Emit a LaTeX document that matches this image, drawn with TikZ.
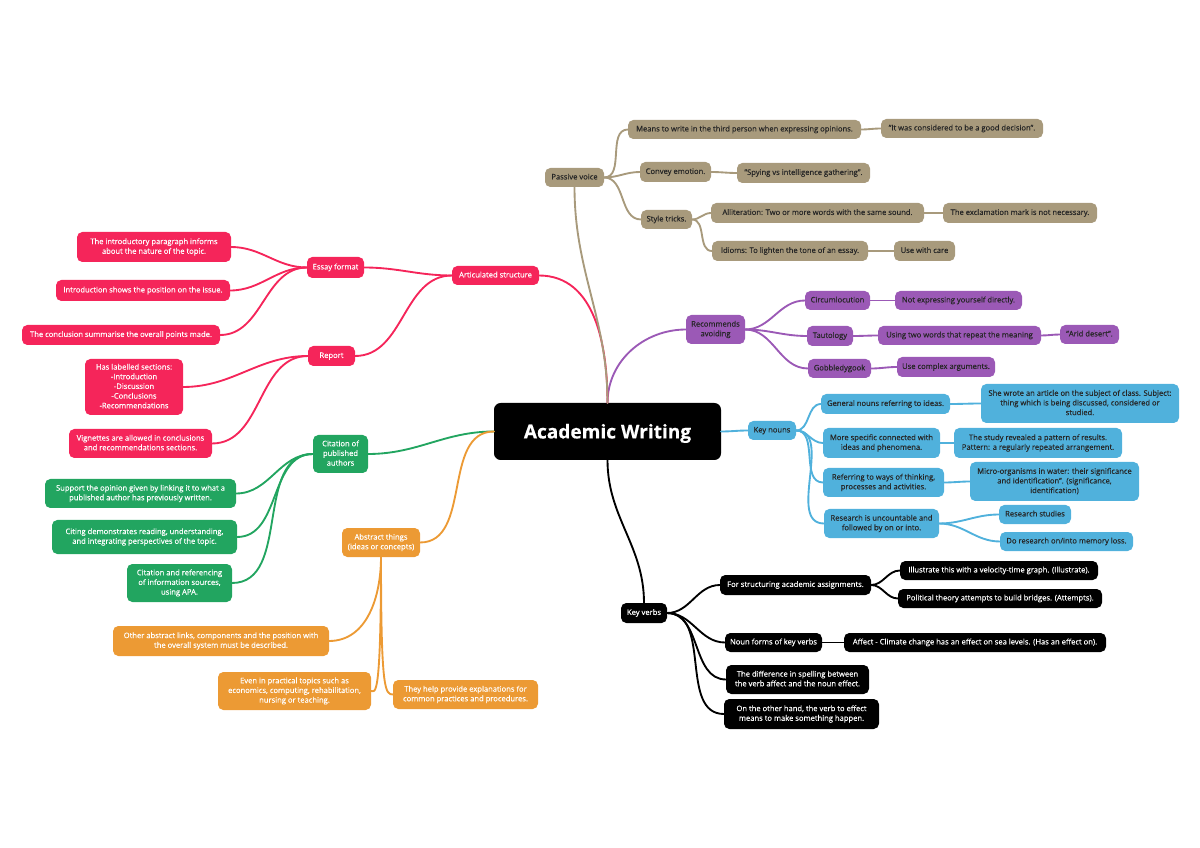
\documentclass[tikz,border=0pt]{standalone}
\usepackage{fontspec}
\setmainfont{Open Sans}[RawFeature={embolden=0.35}]
\definecolor{ctan}{HTML}{A89A7C}
\definecolor{cpink}{HTML}{F5255A}
\definecolor{cgreen}{HTML}{22A560}
\definecolor{corange}{HTML}{EC9A34}
\definecolor{cpurple}{HTML}{9B59B6}
\definecolor{cblue}{HTML}{50B1DC}
\tikzset{
  basebox/.style={rounded corners=4pt,inner sep=0pt,outer sep=0pt,align=center,font=\fontsize{5.7}{7.25}\selectfont},
  tanbox/.style={basebox,fill=ctan,text=black!85},
  purplebox/.style={basebox,fill=cpurple,text=black!85},
  bluebox/.style={basebox,fill=cblue,text=black!85},
  blackbox/.style={basebox,fill=black,text=white},
  pinkbox/.style={basebox,fill=cpink,text=white},
  greenbox/.style={basebox,fill=cgreen,text=white},
  orangebox/.style={basebox,fill=corange,text=white},
  rootbox/.style={rounded corners=5pt,inner sep=0pt,outer sep=0pt,fill=black,text=white,font=\fontsize{14.3}{16}\selectfont\bfseries},
  link/.style={line width=1.4pt,line cap=round},
  tanlink/.style={link,draw=ctan},
  purplelink/.style={link,draw=cpurple},
  bluelink/.style={link,draw=cblue},
  blacklink/.style={link,draw=black},
  pinklink/.style={link,draw=cpink},
  greenlink/.style={link,draw=cgreen},
  orangelink/.style={link,draw=corange},
}
\newcommand{\mm}[7]{%
  \pgfmathsetmacro{\mmw}{(#4-#2)*0.75}%
  \pgfmathsetmacro{\mmh}{(#5-#3)*0.75}%
  \pgfmathsetmacro{\mmx}{(#2+#4)/2}%
  \pgfmathsetmacro{\mmy}{(#3+#5)/2}%
  \node[#6,minimum width=\mmw pt,minimum height=\mmh pt] (#1) at (\mmx,\mmy) {\raisebox{-0.7pt}{\begin{tabular}{@{}c@{}}#7\end{tabular}}};%
}
\newcommand{\cc}[3]{\draw[#1] (#2.east) to[out=0,in=180] (#3.west);}
\newcommand{\cl}[3]{\draw[#1] (#2.west) to[out=180,in=0] (#3.east);}
\begin{document}
\begin{tikzpicture}[x=0.75pt,y=-0.75pt]
\useasboundingbox (0,0) rectangle (1200,848);
\mm{root}{494}{403}{721}{460}{rootbox}{\raisebox{-2.6pt}{Academic Writing}}
% tan
\mm{passive}{545}{168}{604}{187}{tanbox}{Passive voice}
\mm{means}{628}{120}{861}{139}{tanbox}{Means to write in the third person when expressing opinions.}
\mm{itwas}{881}{119}{1043}{138}{tanbox}{"It was considered to be a good decision".}
\mm{convey}{640}{162}{711}{182}{tanbox}{Convey emotion.}
\mm{spying}{737}{163}{870}{183}{tanbox}{"Spying vs intelligence gathering".}
\mm{style}{641}{210}{692}{229}{tanbox}{Style tricks.}
\mm{allit}{711}{203}{924}{223}{tanbox}{Alliteration: Two or more words with the same sound.}
\mm{excl}{943}{203}{1097}{223}{tanbox}{The exclamation mark is not necessary.}
\mm{idioms}{712}{241}{868}{261}{tanbox}{Idioms: To lighten the tone of an essay.}
\mm{care}{894}{241}{955}{261}{tanbox}{Use with care}
% purple
\mm{recom}{686}{315}{745}{344}{purplebox}{Recommends\\avoiding}
\mm{circum}{805}{291}{870}{310}{purplebox}{Circumlocution}
\mm{notexp}{895}{291}{1022}{310}{purplebox}{Not expressing yourself directly.}
\mm{taut}{807}{326}{853}{346}{purplebox}{Tautology}
\mm{using}{878}{326}{1041}{345}{purplebox}{Using two words that repeat the meaning}
\mm{arid}{1060}{325}{1119}{344}{purplebox}{"Arid desert".}
\mm{gobble}{808}{359}{871}{378}{purplebox}{Gobbledygook}
\mm{complex}{897}{357}{995}{377}{purplebox}{Use complex arguments.}
% blue
\mm{nouns}{748}{421}{796}{440}{bluebox}{Key nouns}
\mm{general}{821}{394}{950}{414}{bluebox}{General nouns referring to ideas.}
\mm{she}{981}{384}{1179}{423}{bluebox}{She wrote an article on the subject of class. Subject:\\thing which is being discussed, considered or\\studied.}
\mm{more}{823}{428}{940}{458}{bluebox}{More specific connected with\\ideas and phenomena.}
\mm{study}{954}{428}{1122}{458}{bluebox}{The study revealed a pattern of results.\\Pattern: a regularly repeated arrangement.}
\mm{refer}{823}{468}{944}{497}{bluebox}{Referring to ways of thinking,\\processes and activities.}
\mm{micro}{970}{462}{1139}{501}{bluebox}{Micro-organisms in water: their significance\\and identification". (significance,\\identification)}
\mm{resunc}{824}{509}{939}{538}{bluebox}{Research is uncountable and\\followed by on or into.}
\mm{resstud}{999}{505}{1071}{524}{bluebox}{Research studies}
\mm{dores}{1000}{532}{1133}{551}{bluebox}{Do research on/into memory loss.}
% black
\mm{verbs}{621}{603}{667}{623}{blackbox}{Key verbs}
\mm{forstr}{720}{575}{871}{595}{blackbox}{For structuring academic assignments.}
\mm{illus}{900}{561}{1098}{580}{blackbox}{Illustrate this with a velocity-time graph. (Illustrate).}
\mm{polit}{898}{589}{1102}{608}{blackbox}{Political theory attempts to build bridges. (Attempts).}
\mm{nounf}{725}{633}{822}{652}{blackbox}{Noun forms of key verbs}
\mm{affect}{844}{633}{1106}{652}{blackbox}{Affect - Climate change has an effect on sea levels. (Has an effect on).}
\mm{differ}{726}{665}{869}{694}{blackbox}{The difference in spelling between\\the verb affect and the noun effect.}
\mm{onother}{724}{699}{879}{729}{blackbox}{On the other hand, the verb to effect\\means to make something happen.}
% pink
\mm{artic}{452}{266}{539}{285}{pinkbox}{Articulated structure}
\mm{essay}{307}{257}{364}{278}{pinkbox}{Essay format}
\mm{report}{308}{346}{355}{366}{pinkbox}{Report}
\mm{intropara}{77}{232}{231}{262}{pinkbox}{The introductory paragraph informs\\about the nature of the topic.}
\mm{introshow}{56}{280}{230}{301}{pinkbox}{Introduction shows the position on the issue.}
\mm{conclu}{22}{325}{220}{345}{pinkbox}{The conclusion summarise the overall points made.}
\mm{labelled}{85}{359}{183}{415}{pinkbox}{Has labelled sections:\\-Introduction\\-Discussion\\-Conclusions\\-Recommendations}
\mm{vign}{69}{429}{212}{458}{pinkbox}{Vignettes are allowed in conclusions\\and recommendations sections.}
% green
\mm{citation}{313}{435}{368}{473}{greenbox}{Citation of\\published\\authors}
\mm{support}{45}{479}{236}{508}{greenbox}{Support the opinion given by linking it to what a\\published author has previously written.}
\mm{citing}{52}{520}{237}{554}{greenbox}{Citing demonstrates reading, understanding,\\and integrating perspectives of the topic.}
\mm{citref}{127}{564}{232}{602}{greenbox}{Citation and referencing\\of information sources,\\using APA.}
% orange
\mm{abstract}{342}{528}{420}{557}{orangebox}{Abstract things\\(ideas or concepts)}
\mm{other}{113}{626}{329}{656}{orangebox}{Other abstract links, components and the position with\\the overall system must be described.}
\mm{even}{218}{672}{371}{710}{orangebox}{Even in practical topics such as\\economics, computing, rehabilitation,\\nursing or teaching.}
\mm{they}{393}{680}{538}{709}{orangebox}{They help provide explanations for\\common practices and procedures.}
% connectors: purple
\draw[purplelink] (root.north) to[out=90,in=180] (recom.west);
\cc{purplelink}{recom}{circum}
\cc{purplelink}{circum}{notexp}
\cc{purplelink}{recom}{taut}
\cc{purplelink}{taut}{using}
\cc{purplelink}{using}{arid}
\cc{purplelink}{recom}{gobble}
\cc{purplelink}{gobble}{complex}
% pink
\draw[pinklink] (artic.east) to[out=0,in=90] (root.north);
\cl{pinklink}{artic}{essay}
\cl{pinklink}{artic}{report}
\cl{pinklink}{essay}{intropara}
\cl{pinklink}{essay}{introshow}
\cl{pinklink}{essay}{conclu}
\cl{pinklink}{report}{labelled}
\cl{pinklink}{report}{vign}
% tan
\draw[tanlink] (passive.south) to[out=270,in=90] (root.north);
\cc{tanlink}{passive}{means}
\cc{tanlink}{means}{itwas}
\cc{tanlink}{passive}{convey}
\cc{tanlink}{convey}{spying}
\cc{tanlink}{passive}{style}
\cc{tanlink}{style}{allit}
\cc{tanlink}{allit}{excl}
\cc{tanlink}{style}{idioms}
\cc{tanlink}{idioms}{care}
% blue
\cc{bluelink}{root}{nouns}
\cc{bluelink}{nouns}{general}
\cc{bluelink}{general}{she}
\cc{bluelink}{nouns}{more}
\cc{bluelink}{more}{study}
\cc{bluelink}{nouns}{refer}
\cc{bluelink}{refer}{micro}
\cc{bluelink}{nouns}{resunc}
\cc{bluelink}{resunc}{resstud}
\cc{bluelink}{resunc}{dores}
% black
\draw[blacklink] (root.south) to[out=270,in=90] (verbs.north);
\cc{blacklink}{verbs}{forstr}
\cc{blacklink}{forstr}{illus}
\cc{blacklink}{forstr}{polit}
\cc{blacklink}{verbs}{nounf}
\cc{blacklink}{nounf}{affect}
\cc{blacklink}{verbs}{differ}
\cc{blacklink}{verbs}{onother}
% green
\draw[greenlink] (citation.east) to[out=0,in=180] (root.west);
\cl{greenlink}{citation}{support}
\cl{greenlink}{citation}{citing}
\cl{greenlink}{citation}{citref}
% orange
\draw[orangelink] (root.west) to[out=180,in=0] (abstract.east);
\draw[orangelink] (abstract.south) to[out=270,in=0] (other.east);
\draw[orangelink] (abstract.south) to[out=270,in=0,out distance=110,in distance=3] (even.east);
\draw[orangelink] (abstract.south) to[out=270,in=180,out distance=100,in distance=6] (they.west);
\end{tikzpicture}
\end{document}
